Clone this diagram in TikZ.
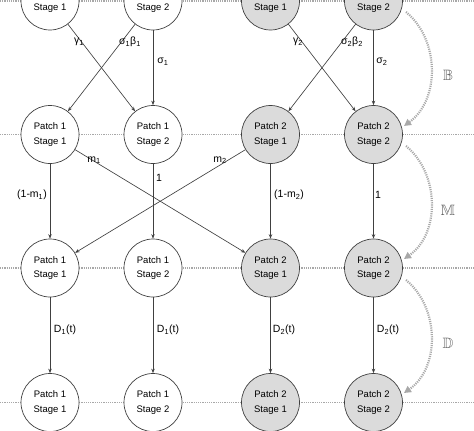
\documentclass[tikz,border=0pt]{standalone}
\usepackage{amssymb}
\usepackage{fontspec}
\setmainfont{Liberation Sans}
\usetikzlibrary{arrows.meta}
\definecolor{linec}{gray}{0.25}
\definecolor{fillc}{gray}{0.86}
\definecolor{dotc}{gray}{0.66}
\begin{document}
\begin{tikzpicture}[x=1pt,y=1pt,
  state/.style={circle,draw=linec,line width=0.7pt,fill=white,minimum size=58pt,inner sep=0pt,align=center,font=\fontsize{9.5}{14.5}\selectfont},
  statetwo/.style={state,fill=fillc},
  flow/.style={draw=linec,line width=0.65pt,-{Stealth[length=4.5pt,width=3.5pt]}},
  lab/.style={font=\fontsize{10.5}{12}\selectfont,inner sep=0pt},
  rowline/.style={dotc,line width=1.8pt,dash pattern=on 1.1pt off 1.1pt},
  phase/.style={dotc,line width=2.2pt,dash pattern=on 1.1pt off 1.1pt,-{Triangle[length=7pt,width=7pt]}},
  phaselab/.style={font=\fontsize{15}{15}\selectfont,text=gray!75!black}]
\useasboundingbox (0,0) rectangle (474,-431);
% rows
\foreach \y in {-1,-134.5,-268,-402.5}{
  \draw[rowline] (0,\y) -- (474,\y);
}
% nodes
\foreach \r/\y in {1/-1,2/-134.5,3/-268,4/-402.5}{
  \node[state] (a\r) at (50,\y) {Patch 1\\Stage 1};
  \node[state] (b\r) at (153,\y) {Patch 1\\Stage 2};
  \node[statetwo] (c\r) at (270.5,\y) {Patch 2\\Stage 1};
  \node[statetwo] (d\r) at (373.5,\y) {Patch 2\\Stage 2};
}
% row 1 -> row 2
\draw[flow] (a1) -- (b2);
\draw[flow] (b1) -- (a2);
\draw[flow] (b1) -- (b2);
\draw[flow] (c1) -- (d2);
\draw[flow] (d1) -- (c2);
\draw[flow] (d1) -- (d2);
\node[lab] (l1) at (79,-42) {γ\textsubscript{1}};
\node[lab] (l2) at (130,-42) {σ\textsubscript{1}β\textsubscript{1}};
\node[lab] (l3) at (163,-62) {σ\textsubscript{1}};
\node[lab] (l4) at (298,-42) {γ\textsubscript{2}};
\node[lab] (l5) at (352,-42) {σ\textsubscript{2}β\textsubscript{2}};
\node[lab] (l6) at (382,-62) {σ\textsubscript{2}};
% row 2 -> row 3
\draw[flow] (a2) -- (a3);
\draw[flow] (a2) -- (c3);
\draw[flow] (c2) -- (a3);
\draw[flow] (b2) -- (b3);
\draw[flow] (c2) -- (c3);
\draw[flow] (d2) -- (d3);
\node[lab] (l7) at (94,-160) {m\textsubscript{1}};
\node[lab] (l8) at (220,-160) {m\textsubscript{2}};
\node[lab] (l9) at (32,-195) {(1-m\textsubscript{1})};
\node[lab] (l10) at (159,-178) {1};
\node[lab] (l11) at (289,-195) {(1-m\textsubscript{2})};
\node[lab] (l12) at (378,-195) {1};
% row 3 -> row 4
\draw[flow] (a3) -- (a4);
\draw[flow] (b3) -- (b4);
\draw[flow] (c3) -- (c4);
\draw[flow] (d3) -- (d4);
\node[lab] (l13) at (65,-330) {D\textsubscript{1}(t)};
\node[lab] (l14) at (168,-330) {D\textsubscript{1}(t)};
\node[lab] (l15) at (284,-330) {D\textsubscript{2}(t)};
\node[lab] (l16) at (388,-330) {D\textsubscript{2}(t)};
% phase arcs
\coordinate (s1) at (406,-12);
\coordinate (e1) at (404,-126);
\coordinate (s2) at (406,-146);
\coordinate (e2) at (404,-259);
\coordinate (s3) at (406,-280);
\coordinate (e3) at (404,-393);
\draw[phase] (s1) .. controls (440,-40) and (440,-100) .. (e1);
\draw[phase] (s2) .. controls (440,-174) and (440,-234) .. (e2);
\draw[phase] (s3) .. controls (440,-308) and (440,-368) .. (e3);
\node[phaselab] (B) at (448,-75) {$\mathbb{B}$};
\node[phaselab] (M) at (448,-210) {$\mathbb{M}$};
\node[phaselab] (D) at (448,-343) {$\mathbb{D}$};
\end{tikzpicture}
\end{document}
